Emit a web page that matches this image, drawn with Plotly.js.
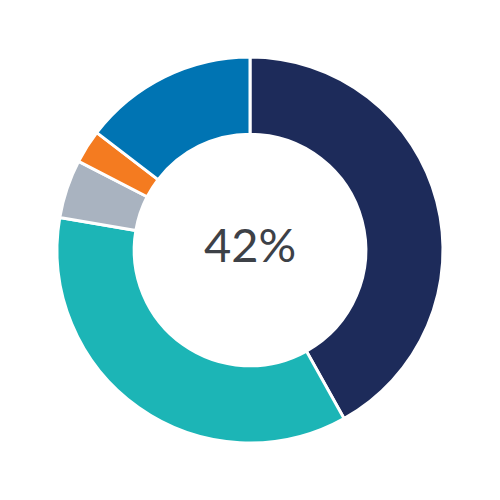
<!DOCTYPE html>
<html>
<head>
<meta charset="utf-8">
<script src="https://cdn.plot.ly/plotly-3.0.1.min.js"></script>
<style>html,body{margin:0;padding:0;background:#fff;}#chart{width:500px;height:500px;}</style>
</head>
<body>
<div id="chart"></div>
<script>
var labels = ["Navy", "Teal", "Gray", "Orange", "Blue"];
var values = [41.9, 35.8, 4.9, 2.8, 14.6];
var colors = ["#1d2b5a", "#1cb5b6", "#a9b3c0", "#f47b20", "#0074b3"];
var centerText = "42%";

var data = [{
  type: "pie",
  labels: labels,
  values: values,
  hole: 0.6,
  sort: false,
  direction: "clockwise",
  rotation: 0,
  textinfo: "none",
  hoverinfo: "label+percent",
  marker: {colors: colors, line: {color: "#ffffff", width: 3}},
  domain: {x: [0, 1], y: [0, 1]}
}];

var layout = {
  width: 500,
  height: 500,
  margin: {l: 57, r: 57, t: 57, b: 57},
  showlegend: false,
  paper_bgcolor: "#ffffff",
  annotations: [{
    text: centerText,
    x: 0.5, y: 0.5, xref: "paper", yref: "paper",
    yshift: 6,
    showarrow: false,
    font: {family: "Lato, sans-serif", size: 47, color: "#3d4147"}
  }]
};

Plotly.newPlot("chart", data, layout, {displayModeBar: false, staticPlot: true});
</script>
</body>
</html>
